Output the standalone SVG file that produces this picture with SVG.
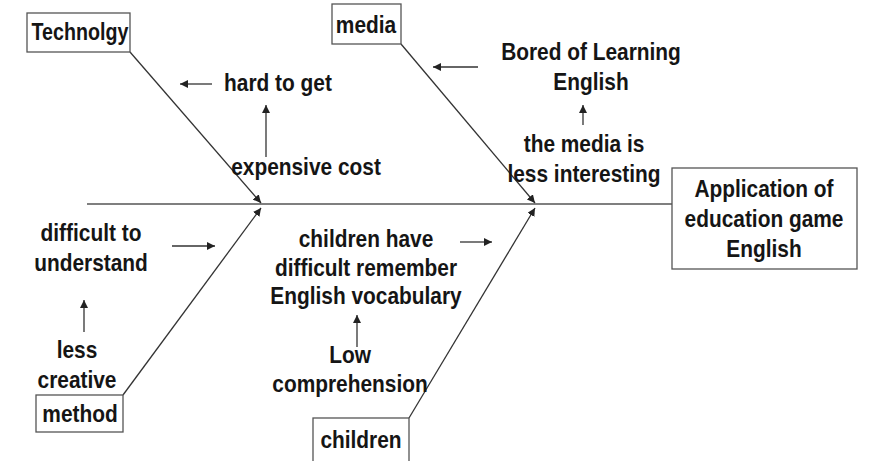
<svg xmlns="http://www.w3.org/2000/svg" width="876" height="461" viewBox="0 0 876 461">
<defs>
<marker id="ah" viewBox="0 0 10 10" refX="10" refY="5" markerWidth="8" markerHeight="8" markerUnits="userSpaceOnUse" orient="auto">
<path d="M0,0 L10,5 L0,10 z" fill="#222"/>
</marker>
<style>
.t{font-family:"Liberation Sans",Arial,sans-serif;font-weight:bold;font-size:24px;fill:#151515;text-anchor:middle}
.box{fill:#fff;stroke:#555;stroke-width:1.3}
.ln{stroke:#555;stroke-width:1.3;fill:none}
.ar{stroke:#333;stroke-width:1.3;fill:none;marker-end:url(#ah)}
</style>
</defs>
<rect width="876" height="461" fill="#fff"/>
<g id="connectors">
<line class="ln" x1="87" y1="204" x2="672" y2="204"/>
<line class="ar" x1="130" y1="52" x2="261" y2="203"/>
<line class="ar" x1="401" y1="44" x2="535" y2="203"/>
<line class="ar" x1="123" y1="395" x2="261" y2="208"/>
<line class="ar" x1="409" y1="418" x2="535" y2="208"/>
<line class="ar" x1="212" y1="84" x2="180" y2="84"/>
<line class="ar" x1="266" y1="157" x2="266" y2="105"/>
<line class="ar" x1="478" y1="67" x2="433" y2="67"/>
<line class="ar" x1="583" y1="125" x2="583" y2="105"/>
<line class="ar" x1="172" y1="246" x2="215" y2="246"/>
<line class="ar" x1="84" y1="332" x2="84" y2="300"/>
<line class="ar" x1="460" y1="242" x2="492" y2="242"/>
<line class="ar" x1="357" y1="347" x2="357" y2="315"/>
</g>
<g id="head">
<rect class="box" x="672" y="168" width="185" height="101"/>
<text class="t" transform="matrix(0.87 0 0 1 764 197)">Application of</text>
<text class="t" transform="matrix(0.87 0 0 1 764 227)">education game</text>
<text class="t" transform="matrix(0.87 0 0 1 764 257)">English</text>
</g>
<g id="technolgy">
<rect class="box" x="27" y="13" width="103" height="39"/>
<text class="t" transform="matrix(0.82 0 0 1 80 40)">Technolgy</text>
</g>
<g id="media">
<rect class="box" x="332" y="4" width="69" height="40"/>
<text class="t" transform="matrix(0.87 0 0 1 366 33)">media</text>
</g>
<g id="method">
<rect class="box" x="36" y="395" width="87" height="37"/>
<text class="t" transform="matrix(0.87 0 0 1 80 422)">method</text>
</g>
<g id="children">
<rect class="box" x="313" y="418" width="96" height="60"/>
<text class="t" transform="matrix(0.87 0 0 1 361 448)">children</text>
</g>
<g id="hard-to-get"><text class="t" transform="matrix(0.87 0 0 1 278 91)">hard to get</text></g>
<g id="expensive-cost"><text class="t" transform="matrix(0.87 0 0 1 306 175)">expensive cost</text></g>
<g id="bored">
<text class="t" transform="matrix(0.87 0 0 1 591 60)">Bored of Learning</text>
<text class="t" transform="matrix(0.87 0 0 1 591 90)">English</text>
</g>
<g id="media-less">
<text class="t" transform="matrix(0.87 0 0 1 584 152)">the media is</text>
<text class="t" transform="matrix(0.87 0 0 1 584 182)">less interesting</text>
</g>
<g id="difficult-understand">
<text class="t" transform="matrix(0.87 0 0 1 91 241)">difficult to</text>
<text class="t" transform="matrix(0.87 0 0 1 91 271)">understand</text>
</g>
<g id="less-creative">
<text class="t" transform="matrix(0.87 0 0 1 77 358)">less</text>
<text class="t" transform="matrix(0.87 0 0 1 77 388)">creative</text>
</g>
<g id="children-remember">
<text class="t" transform="matrix(0.87 0 0 1 366 247)">children have</text>
<text class="t" transform="matrix(0.87 0 0 1 366 276)">difficult remember</text>
<text class="t" transform="matrix(0.87 0 0 1 366 304)">English vocabulary</text>
</g>
<g id="low-comprehension">
<text class="t" transform="matrix(0.87 0 0 1 350 363)">Low</text>
<text class="t" transform="matrix(0.87 0 0 1 350 392)">comprehension</text>
</g>
</svg>
